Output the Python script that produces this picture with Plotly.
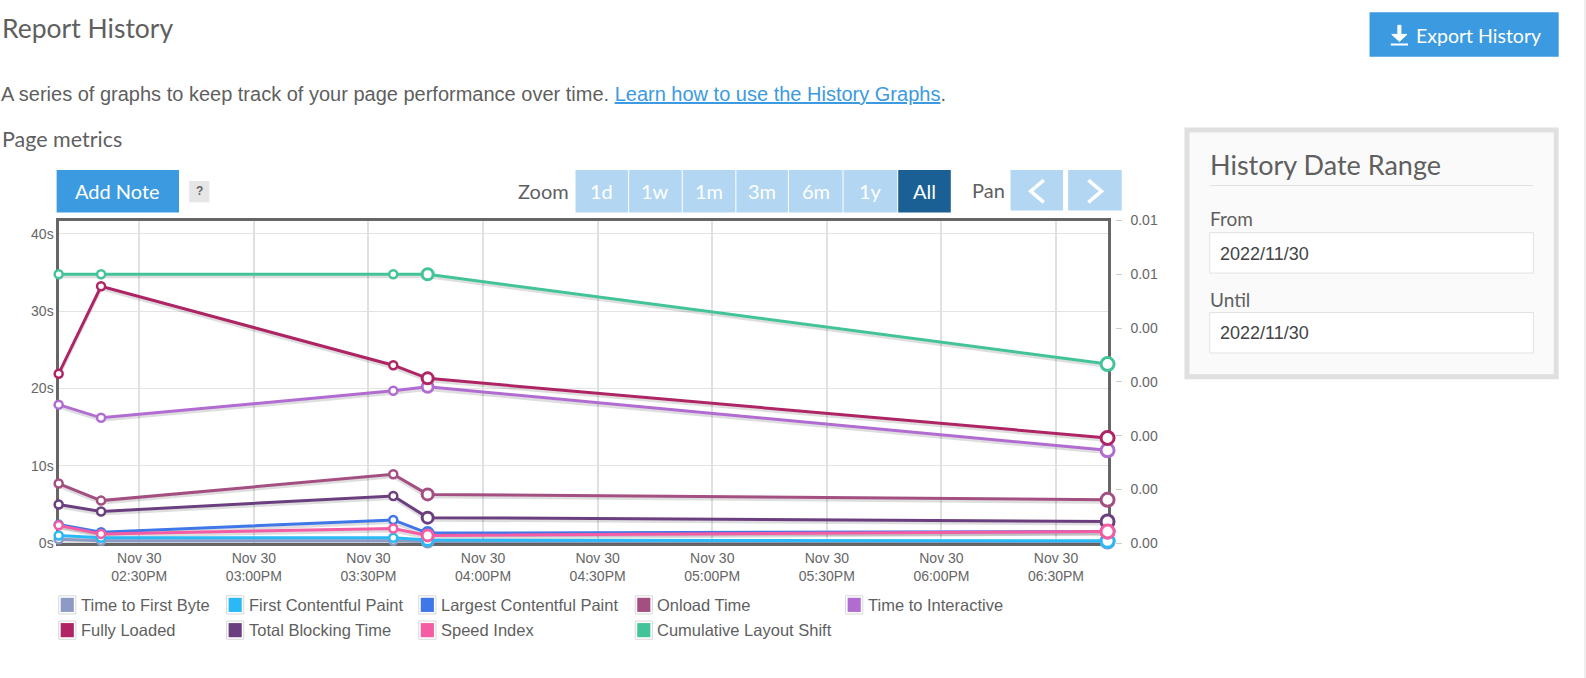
import plotly.graph_objects as go

W = 1586
H = 678
# the layout numbers below were measured on a 1568 wide view of the page
VIEW = 1568 / 1586

# sample times
times = ["2022-11-30 14:08:54", "2022-11-30 14:20:00", "2022-11-30 15:36:30",
         "2022-11-30 15:45:30", "2022-11-30 18:43:30"]

# seconds
ttfb = [0.5, 0.3, 0.3, 0.2, 0.2]
fcp = [1.0, 0.7, 0.7, 0.4, 0.3]
lcp = [2.4, 1.4, 3.0, 1.3, 1.5]
onload = [7.7, 5.5, 8.9, 6.3, 5.6]
tti = [17.9, 16.2, 19.7, 20.2, 12.0]
fully_loaded = [21.9, 33.2, 23.0, 21.3, 13.6]
tbt = [5.0, 4.1, 6.1, 3.3, 2.8]
speed_index = [2.3, 1.2, 1.9, 1.0, 1.5]
# no unit, right axis
cls = [0.005, 0.005, 0.005, 0.005, 0.00333]

series_names = ["Time to First Byte", "First Contentful Paint", "Largest Contentful Paint",
                "Onload Time", "Time to Interactive", "Fully Loaded", "Total Blocking Time",
                "Speed Index", "Cumulative Layout Shift"]
series_colors = ["#8c9ac4", "#2bb9f5", "#3f77e8", "#a44f82", "#b06cd0",
                 "#ae2464", "#6b3f7f", "#f45ca3", "#43c39a"]
series_values = [ttfb, fcp, lcp, onload, tti, fully_loaded, tbt, speed_index, cls]

x_ticks = ["2022-11-30 14:30", "2022-11-30 15:00", "2022-11-30 15:30", "2022-11-30 16:00",
           "2022-11-30 16:30", "2022-11-30 17:00", "2022-11-30 17:30", "2022-11-30 18:00",
           "2022-11-30 18:30"]
x_labels = ["Nov 30<br>02:30PM", "Nov 30<br>03:00PM", "Nov 30<br>03:30PM", "Nov 30<br>04:00PM",
            "Nov 30<br>04:30PM", "Nov 30<br>05:00PM", "Nov 30<br>05:30PM", "Nov 30<br>06:00PM",
            "Nov 30<br>06:30PM"]
left_ticks = [0, 10, 20, 30, 40]
left_labels = ["0s", "10s", "20s", "30s", "40s"]
right_ticks = [0, 0.001, 0.002, 0.003, 0.004, 0.005, 0.006]
right_labels = ["0.00", "0.00", "0.00", "0.00", "0.00", "0.01", "0.01"]
zoom_labels = ["1d", "1w", "1m", "3m", "6m", "1y", "All"]

# plot box
PX0, PX1, PY0, PY1 = 58, 1095, 218, 537
LEFT_TOP = (PY1 - PY0) / 7.65
RIGHT_TOP = 0.006
SHADOW_PX = 2.5

SANS = "Liberation Sans"
HEAD = "Lato"
TEXT = "#5f5f5f"
BLUE = "#3c9ae0"
LIGHT = "#b3d7f2"


def px(x):
    return x / VIEW / W


def py(y):
    return 1 - y / VIEW / H


shapes = []
notes = []


def box(x0, y0, x1, y1, fill, line=None, width=0):
    shapes.append(dict(type="rect", xref="paper", yref="paper", x0=px(x0), x1=px(x1),
                       y0=py(y0), y1=py(y1), fillcolor=fill,
                       line=dict(color=line or fill, width=width)))


def outline(points, color, width=3, fill=None):
    path = "M " + " L ".join(f"{px(a):.5f},{py(b):.5f}" for a, b in points)
    shapes.append(dict(type="path", xref="paper", yref="paper", path=path,
                       fillcolor=fill, line=dict(color=color, width=width)))


def label(x, y, text, size, color=TEXT, family=SANS, anchor="left"):
    notes.append(dict(xref="paper", yref="paper", x=px(x), y=py(y), text=text, showarrow=False,
                      xanchor=anchor, yanchor="middle", borderpad=0,
                      font=dict(size=size, color=color, family=family)))


fig = go.Figure()

# soft shadow under each line, same data on the two lower axes nudged a couple of pixels.
# overlaid axes stack in order, so the real lines on y3/y4 end up above these
for name, vals in zip(series_names, series_values):
    axis = "y2" if name == "Cumulative Layout Shift" else "y"
    fig.add_trace(go.Scatter(x=times, y=vals, yaxis=axis, mode="lines", cliponaxis=False,
                             line=dict(color="rgba(0,0,0,0.13)", width=3),
                             showlegend=False, hoverinfo="skip"))

for name, vals, color in zip(series_names, series_values, series_colors):
    axis = "y4" if name == "Cumulative Layout Shift" else "y3"
    # size as a list makes plotly treat it as a bubble and fade it, so opacity is set
    fig.add_trace(go.Scatter(x=times, y=vals, name=name, yaxis=axis, mode="lines+markers",
                             cliponaxis=False, showlegend=False,
                             line=dict(color=color, width=3),
                             marker=dict(size=[8, 8, 8, 11, 13], color="white", opacity=1,
                                         line=dict(color=color, width=[2.5, 2.5, 2.5, 3, 3]))))

# page header
label(1, 28, "Report History", 26.5, family=HEAD)
label(0, 93, "A series of graphs to keep track of your page performance over time. "
      f"<span style='color:{BLUE}'><u>Learn how to use the History Graphs</u></span>.", 20)
label(1, 137, "Page metrics", 21.5, family=HEAD)

# export button
box(1354, 12, 1541, 56, BLUE)
label(1399, 35, "Export History", 19.5, "white", HEAD)
outline([(1382, 25), (1382, 34), (1376, 34), (1383.5, 41), (1391, 34), (1385, 34), (1385, 25), (1382, 25)],
        "white", 1, "white")
box(1375, 43, 1392, 45, "white")

# chart toolbar
box(56, 168, 177, 210, BLUE)
label(116.5, 189, "Add Note", 20, "white", HEAD, "center")
box(187, 179, 207, 200, "#e6e6e6")
label(197, 189, "<b>?</b>", 12, "#666666", SANS, "center")
label(511, 189, "Zoom", 20, family=HEAD)
zoom_edges = [569, 622, 675, 728, 780, 834, 888, 941]
for i, text in enumerate(zoom_labels):
    fill = "#1a6094" if text == "All" else LIGHT
    box(zoom_edges[i], 168, zoom_edges[i + 1] - 1, 210, fill)
    label((zoom_edges[i] + zoom_edges[i + 1] - 1) / 2, 189, text, 20, "white", HEAD, "center")
label(960, 188, "Pan", 20, family=HEAD)
box(999, 168, 1051, 208, LIGHT)
box(1056, 168, 1109, 208, LIGHT)
outline([(1032, 178), (1019, 189), (1032, 200)], "white", 3.5)
outline([(1076, 178), (1089, 189), (1076, 200)], "white", 3.5)

# date range panel
box(1173.5, 128.5, 1538.5, 372.5, "#fafafa", "#e0e0e0", 5)
label(1195, 163, "History Date Range", 27, family=HEAD)
box(1196, 183, 1516, 184, "#e2e2e2")
label(1195, 216, "From", 19, family=HEAD)
box(1196, 230, 1516, 270, "white", "#e2e2e2", 1)
label(1205, 251, "2022/11/30", 18, "#444444")
label(1195, 296, "Until", 19, family=HEAD)
box(1196, 309, 1516, 349, "white", "#e2e2e2", 1)
label(1205, 329, "2022/11/30", 18, "#444444")

# page scrollbar edge
box(1566, 0, 1568, 678, "#eeeeee")

# legend, built by hand since the columns are uneven
legend_x = [58, 224, 414, 628, 836, 58, 224, 414, 628]
legend_y = [598, 598, 598, 598, 598, 623, 623, 623, 623]
for name, color, lx, ly in zip(series_names, series_colors, legend_x, legend_y):
    box(lx, ly - 9, lx + 17, ly + 9, "white", "#d8d8d8", 1)
    box(lx + 2, ly - 7, lx + 15, ly + 7, color)
    label(lx + 21, ly, name, 16.5, "#5f5f5f")

fig.update_layout(
    width=W,
    height=H,
    margin=dict(l=0, r=0, t=0, b=0),
    autosize=False,
    paper_bgcolor="white",
    plot_bgcolor="white",
    hovermode=False,
    shapes=shapes,
    annotations=notes,
    font=dict(family=SANS, color="#666666", size=14),
    xaxis=dict(domain=[px(PX0), px(PX1)], type="date", range=[times[0], times[-1]],
               tickmode="array", tickvals=x_ticks, ticktext=x_labels, automargin=False,
               showgrid=True, gridcolor="#e0e0e0", gridwidth=1.5, layer="below traces",
               showline=True, mirror=True, linecolor="#666666", linewidth=2.5,
               ticks="", tickfont=dict(size=14, color="#666666"), zeroline=False),
    # shadow axes, the base one also carries the frame
    yaxis=dict(domain=[py(PY1), py(PY0)], automargin=False, layer="below traces",
               range=[SHADOW_PX / 7.65, LEFT_TOP + SHADOW_PX / 7.65],
               showgrid=False, showticklabels=False, ticks="", zeroline=False,
               showline=True, mirror=True, linecolor="#666666", linewidth=2.5),
    yaxis2=dict(domain=[py(PY1), py(PY0)], overlaying="y", visible=False, automargin=False,
                range=[RIGHT_TOP * SHADOW_PX / (PY1 - PY0), RIGHT_TOP * (1 + SHADOW_PX / (PY1 - PY0))]),
    # real axes
    yaxis3=dict(domain=[py(PY1), py(PY0)], overlaying="y", range=[0, LEFT_TOP], automargin=False,
                tickmode="array", tickvals=left_ticks, ticktext=left_labels, layer="below traces",
                showgrid=True, gridcolor="#e3e3e3", gridwidth=1, showline=False,
                ticks="", ticklabelstandoff=4, tickfont=dict(size=14, color="#666666"), zeroline=False),
    yaxis4=dict(domain=[py(PY1), py(PY0)], range=[0, RIGHT_TOP], overlaying="y", side="right",
                anchor="free", position=px(1102), automargin=False, layer="below traces",
                tickmode="array", tickvals=right_ticks, ticktext=right_labels,
                showgrid=False, showline=False, zeroline=False,
                ticks="outside", ticklen=6, tickcolor="#cccccc", tickwidth=1,
                ticklabelstandoff=6, tickfont=dict(size=14, color="#666666")),
)

fig.write_html("out.html", config={"displayModeBar": False},
               post_script="document.body.style.margin='0';document.body.style.overflow='hidden';")
